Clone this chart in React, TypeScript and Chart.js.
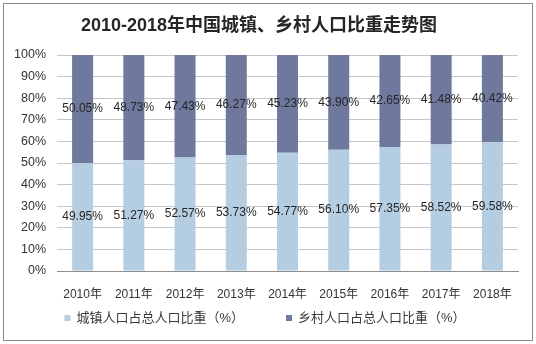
import React, { useEffect, useRef } from "react";
import { Chart, registerables } from "chart.js";

Chart.register(...registerables);

const years = ["2010年", "2011年", "2012年", "2013年", "2014年", "2015年", "2016年", "2017年", "2018年"];
const urbanShare = [49.95, 51.27, 52.57, 53.73, 54.77, 56.1, 57.35, 58.52, 59.58];
const ruralShare = [50.05, 48.73, 47.43, 46.27, 45.23, 43.9, 42.65, 41.48, 40.42];
const seriesNames = ["城镇人口占总人口比重（%）", "乡村人口占总人口比重（%）"];
const seriesColors = ["#b5cde1", "#6f789d"];
const yTicks = [0, 10, 20, 30, 40, 50, 60, 70, 80, 90, 100];

const FONT = "'Liberation Sans', Arial, 'Noto Sans CJK SC', sans-serif";

// Frame + white background
const framePlugin = {
  id: "frame",
  beforeDraw(chart: any) {
    const { ctx, width, height } = chart;
    ctx.save();
    ctx.fillStyle = "#ffffff";
    ctx.fillRect(0, 0, width, height);
    ctx.strokeStyle = "#8a8a8a";
    ctx.lineWidth = 1;
    ctx.strokeRect(3.5, 3.5, width - 7, height - 7);
    ctx.restore();
  },
};

// Percentage labels centred inside each stacked segment
const segmentLabels = {
  id: "segmentLabels",
  afterDatasetsDraw(chart: any) {
    const { ctx } = chart;
    ctx.save();
    ctx.font = `12px ${FONT}`;
    ctx.fillStyle = "#262626";
    ctx.textAlign = "center";
    ctx.textBaseline = "middle";
    chart.data.datasets.forEach((ds: any, di: number) => {
      const meta = chart.getDatasetMeta(di);
      meta.data.forEach((bar: any, i: number) => {
        const y = (bar.y + bar.base) / 2;
        ctx.fillText(ds.data[i].toFixed(2) + "%", bar.x, y);
      });
    });
    ctx.restore();
  },
};

// Legend row under the x axis
const bottomLegend = {
  id: "bottomLegend",
  afterDraw(chart: any) {
    const { ctx } = chart;
    ctx.save();
    ctx.font = `13px ${FONT}`;
    ctx.textBaseline = "middle";
    const y = 318;
    const box = 6;
    const gapText = 6;
    const gapItems = 42;
    const items = chart.data.datasets.map((ds: any) => ({
      label: ds.label,
      color: ds.backgroundColor,
      w: box + gapText + ctx.measureText(ds.label).width,
    }));
    const total = items.reduce((s: number, it: any) => s + it.w, 0) + gapItems * (items.length - 1);
    let x = (chart.width - total) / 2 - 3;
    items.forEach((it: any) => {
      ctx.fillStyle = it.color;
      ctx.fillRect(x, y - box / 2, box, box);
      ctx.fillStyle = "#3a3a3a";
      ctx.textAlign = "left";
      ctx.fillText(it.label, x + box + gapText, y);
      x += it.w + gapItems;
    });
    ctx.restore();
  },
};

export default function App() {
  const ref = useRef<HTMLCanvasElement>(null);

  useEffect(() => {
    document.body.style.margin = "0";
    const chart = new Chart(ref.current!, {
      type: "bar",
      data: {
        labels: years,
        datasets: [
          {
            label: seriesNames[0],
            data: urbanShare,
            backgroundColor: seriesColors[0],
            barPercentage: 0.82,
            categoryPercentage: 0.5,
          },
          {
            label: seriesNames[1],
            data: ruralShare,
            backgroundColor: seriesColors[1],
            barPercentage: 0.82,
            categoryPercentage: 0.5,
          },
        ],
      },
      options: {
        animation: false,
        responsive: false,
        devicePixelRatio: 1,
        layout: { padding: { left: 0, right: 18, top: 0, bottom: 43 } },
        plugins: {
          legend: { display: false },
          tooltip: { enabled: false },
          title: {
            display: true,
            text: "2010-2018年中国城镇、乡村人口比重走势图",
            color: "#262626",
            font: { family: FONT, size: 18, weight: "bold", lineHeight: 1.2 },
            padding: { top: 15, bottom: 18.4 },
          },
        },
        scales: {
          x: {
            stacked: true,
            grid: { display: false },
            border: { color: "#8c8c8c" },
            ticks: { color: "#333", font: { family: FONT, size: 12 }, padding: 8, maxRotation: 0 },
            afterFit(scale: any) {
              scale.height = 30;
            },
          },
          y: {
            stacked: true,
            min: 0,
            max: 100,
            afterBuildTicks(scale: any) {
              scale.ticks = yTicks.map((v) => ({ value: v }));
            },
            grid: { color: "#c6c6c6", drawTicks: false },
            border: { display: false },
            ticks: {
              color: "#333",
              font: { family: FONT, size: 12.5 },
              padding: 11,
              callback: (v: any) => v + "%",
            },
            afterFit(scale: any) {
              scale.width = 57;
            },
          },
        },
      },
      plugins: [framePlugin, segmentLabels, bottomLegend],
    });
    return () => chart.destroy();
  }, []);

  return (
    <div style={{ position: "fixed", left: 0, top: 0, width: 536, height: 344 }}>
      <canvas ref={ref} width={536} height={344} style={{ width: 536, height: 344 }} />
    </div>
  );
}
